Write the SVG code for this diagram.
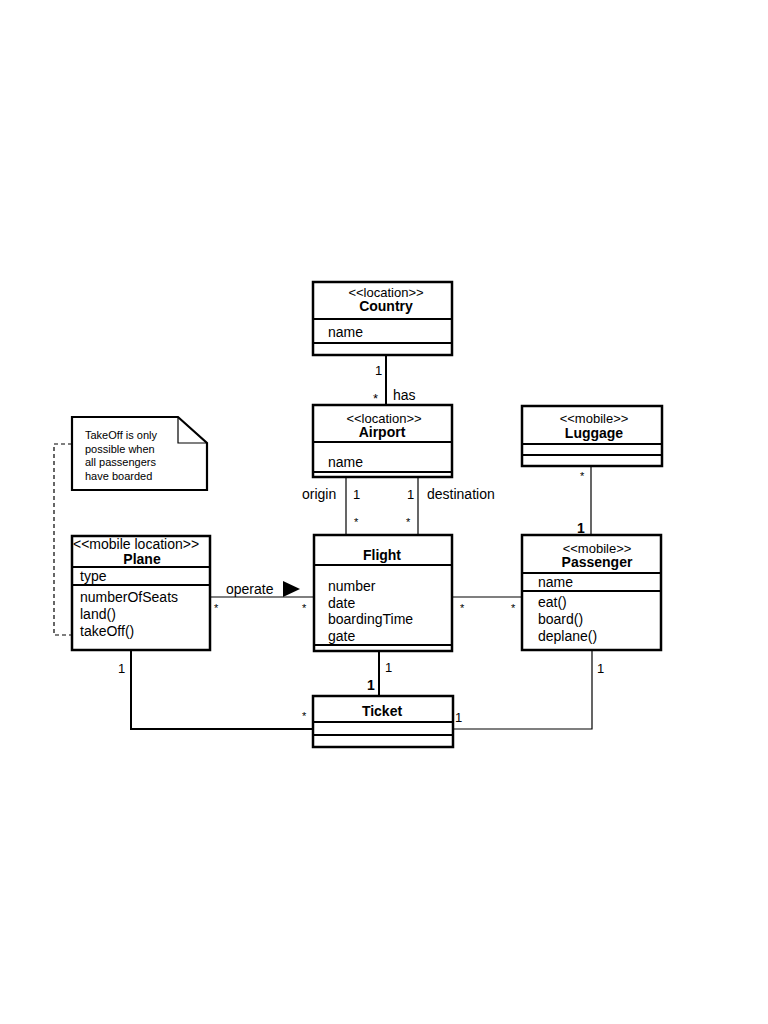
<svg xmlns="http://www.w3.org/2000/svg" width="768" height="1024" viewBox="0 0 768 1024">
<style>
.box{fill:#fff;stroke:#000;stroke-width:2.5}
.div{stroke:#000;stroke-width:1.8}
.t{font-family:"Liberation Sans",Arial,sans-serif;font-size:14px;fill:#000}
.st{font-family:"Liberation Sans",Arial,sans-serif;font-size:13px;fill:#000}
.b{font-family:"Liberation Sans",Arial,sans-serif;font-size:14px;font-weight:bold;fill:#000}
.n{font-family:"Liberation Sans",Arial,sans-serif;font-size:11px;fill:#000}
.c{fill:none;stroke:#000;stroke-width:2}
.ct{fill:none;stroke:#000;stroke-width:1.2}
.m{font-family:"Liberation Sans",Arial,sans-serif;font-size:13px;fill:#000}
</style>
<rect width="768" height="1024" fill="#fff"/>
<g id="connectors">
<line class="c" x1="386" y1="356" x2="386" y2="405"/>
<line class="ct" x1="346" y1="477" x2="346" y2="536"/>
<line class="ct" x1="418" y1="477" x2="418" y2="536"/>
<line class="ct" x1="591" y1="466" x2="591" y2="536"/>
<line class="ct" x1="452" y1="597" x2="522" y2="597"/>
<line class="ct" x1="210" y1="597" x2="314" y2="597"/>
<polygon points="283,581 300,589 283,597" fill="#000"/>
<line class="c" x1="379" y1="651" x2="379" y2="696"/>
<polyline class="c" points="131,650 131,729 313,729"/>
<polyline class="ct" points="592,650 592,729 453,729"/>
<polyline fill="none" stroke="#000" stroke-width="1.2" stroke-dasharray="4,3" points="72,444 54,444 54,635 74,635"/>
<text class="m" x="375" y="375">1</text>
<text class="m" x="373" y="403">*</text>
<text class="t" x="393" y="400">has</text>
<text class="t" x="302" y="499">origin</text>
<text class="m" x="353" y="499">1</text>
<text class="m" x="407" y="499">1</text>
<text class="t" x="427" y="499">destination</text>
<text class="n" x="354" y="526">*</text>
<text class="n" x="406" y="526">*</text>
<text class="n" x="580" y="480">*</text>
<text class="b" x="577" y="533">1</text>
<text class="t" x="226" y="594">operate</text>
<text class="n" x="214" y="612">*</text>
<text class="n" x="302" y="612">*</text>
<text class="n" x="460" y="612">*</text>
<text class="n" x="511" y="612">*</text>
<text class="m" x="118" y="673">1</text>
<text class="m" x="385" y="672">1</text>
<text class="b" x="367" y="690">1</text>
<text class="n" x="302" y="720">*</text>
<text class="m" x="455" y="722">1</text>
<text class="m" x="597" y="673">1</text>
</g>
<g id="country">
<rect class="box" x="313" y="282" width="139" height="73"/>
<line class="div" x1="313" y1="319" x2="452" y2="319"/>
<line class="div" x1="313" y1="343" x2="452" y2="343"/>
<text class="st" x="386" y="297" text-anchor="middle">&lt;&lt;location&gt;&gt;</text>
<text class="b" x="386" y="311" text-anchor="middle">Country</text>
<text class="t" x="328" y="337">name</text>
</g>
<g id="airport">
<rect class="box" x="313" y="405" width="139" height="72"/>
<line class="div" x1="313" y1="442" x2="452" y2="442"/>
<line class="div" x1="313" y1="472" x2="452" y2="472"/>
<text class="st" x="384" y="423" text-anchor="middle">&lt;&lt;location&gt;&gt;</text>
<text class="b" x="382" y="437" text-anchor="middle">Airport</text>
<text class="t" x="328" y="467">name</text>
</g>
<g id="luggage">
<rect class="box" x="522" y="406" width="140" height="60"/>
<line class="div" x1="522" y1="444" x2="662" y2="444"/>
<line class="div" x1="522" y1="455" x2="662" y2="455"/>
<text class="st" x="594" y="423" text-anchor="middle">&lt;&lt;mobile&gt;&gt;</text>
<text class="b" x="594" y="438" text-anchor="middle">Luggage</text>
</g>
<g id="note">
<path d="M72,417 H178 L207,443 V490 H72 Z" fill="#fff" stroke="#000" stroke-width="2.2"/>
<polyline points="178,417 178,443 207,443" fill="none" stroke="#000" stroke-width="1.2"/>
<text class="n" x="85" y="439">TakeOff is only</text>
<text class="n" x="85" y="453">possible when</text>
<text class="n" x="85" y="466">all passengers</text>
<text class="n" x="85" y="480">have boarded</text>
</g>
<g id="plane">
<rect class="box" x="72" y="536" width="138" height="114" stroke-width="3"/>
<line class="div" x1="72" y1="567" x2="210" y2="567"/>
<line class="div" x1="72" y1="585" x2="210" y2="585"/>
<text class="t" x="73" y="549" font-size="13.5">&lt;&lt;mobile location&gt;&gt;</text>
<text class="b" x="142" y="564" text-anchor="middle">Plane</text>
<text class="t" x="80" y="581">type</text>
<text class="t" x="80" y="602">numberOfSeats</text>
<text class="t" x="80" y="619">land()</text>
<text class="t" x="80" y="636">takeOff()</text>
</g>
<g id="flight">
<rect class="box" x="314" y="535" width="138" height="116"/>
<line class="div" x1="314" y1="565" x2="452" y2="565"/>
<line class="div" x1="314" y1="645" x2="452" y2="645"/>
<text class="b" x="382" y="560" text-anchor="middle">Flight</text>
<text class="t" x="328" y="591">number</text>
<text class="t" x="328" y="608">date</text>
<text class="t" x="328" y="624">boardingTime</text>
<text class="t" x="328" y="641">gate</text>
</g>
<g id="passenger">
<rect class="box" x="522" y="535" width="139" height="115"/>
<line class="div" x1="522" y1="573" x2="661" y2="573"/>
<line class="div" x1="522" y1="591" x2="661" y2="591"/>
<text class="st" x="597" y="553" text-anchor="middle">&lt;&lt;mobile&gt;&gt;</text>
<text class="b" x="597" y="567" text-anchor="middle">Passenger</text>
<text class="t" x="538" y="587">name</text>
<text class="t" x="538" y="607">eat()</text>
<text class="t" x="538" y="624">board()</text>
<text class="t" x="538" y="641">deplane()</text>
</g>
<g id="ticket">
<rect class="box" x="313" y="696" width="140" height="51"/>
<line class="div" x1="313" y1="722" x2="453" y2="722"/>
<line class="div" x1="313" y1="735" x2="453" y2="735"/>
<text class="b" x="382" y="716" text-anchor="middle">Ticket</text>
</g>
</svg>
